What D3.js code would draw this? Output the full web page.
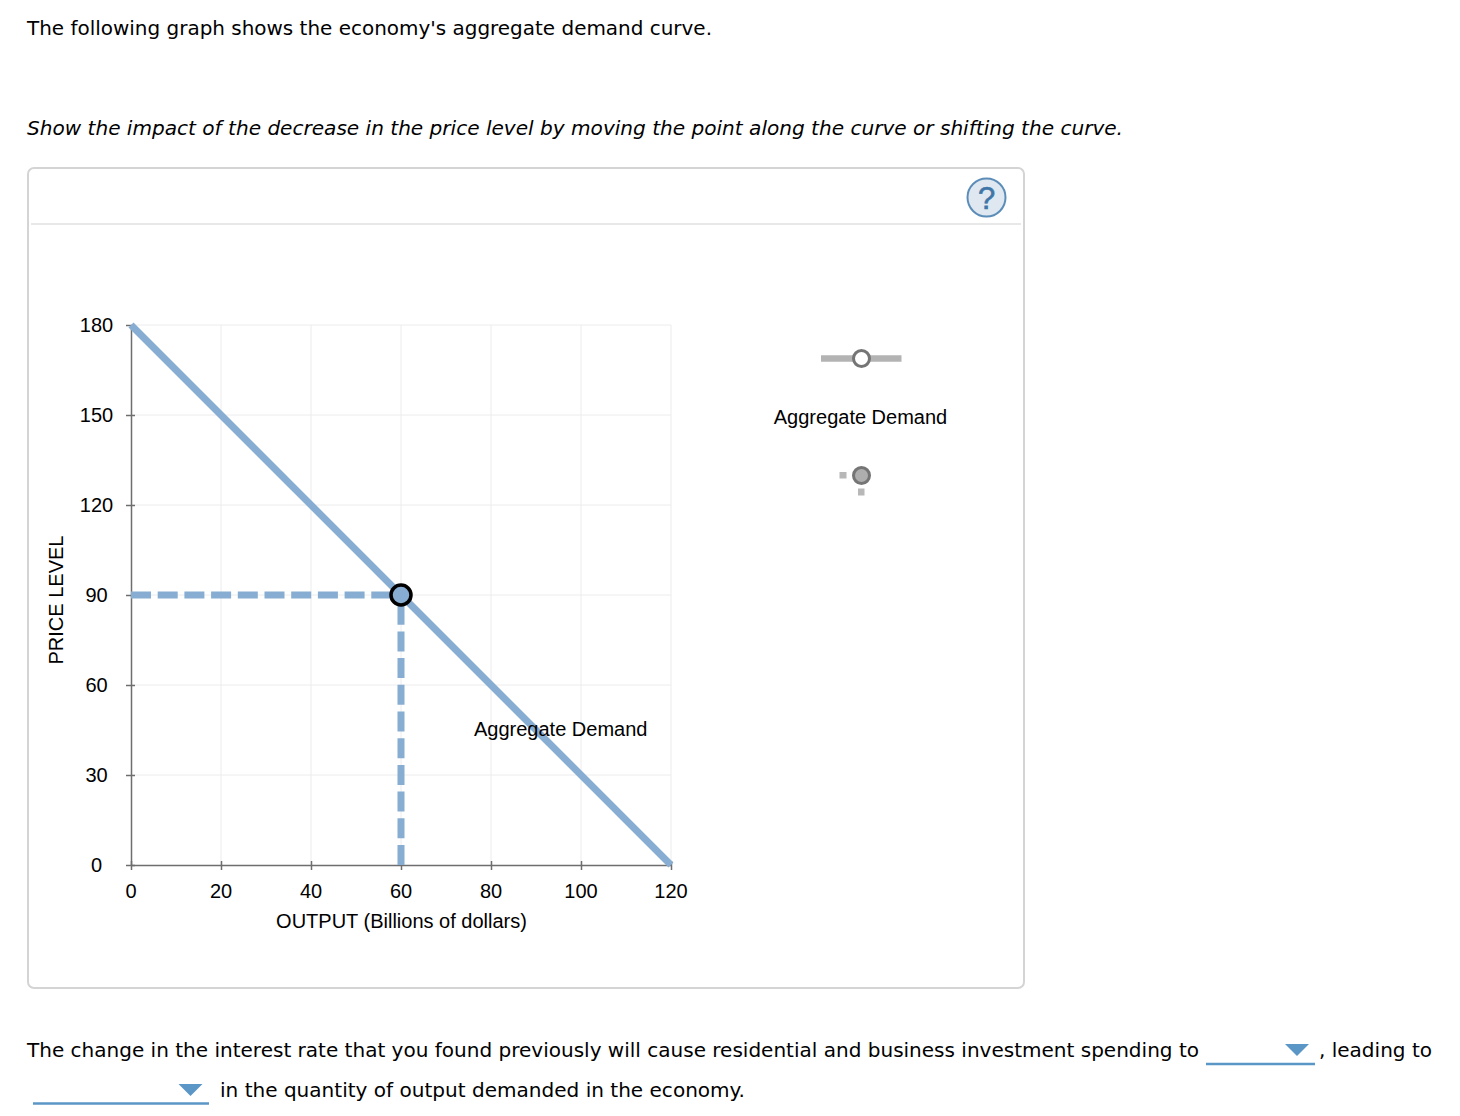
<!DOCTYPE html>
<html><head><meta charset="utf-8">
<script src="https://cdn.jsdelivr.net/npm/d3@7"></script>
<style>html,body{margin:0;padding:0;background:#fff}svg{display:block}</style></head>
<body><svg id="c" width="1460" height="1116"></svg>
<script>
const xTicks=[0,20,40,60,80,100,120];
const yTicks=[0,30,60,90,120,150,180];
const demandX=[0,120];
const demandY=[180,0];
const pointX=[60];
const pointY=[90];
const curveLabel="Aggregate Demand";
const xTitle="OUTPUT (Billions of dollars)";
const yTitle="PRICE LEVEL";
const paragraphs=[
 {t:"The following graph shows the economy's aggregate demand curve.",x:27,y:35,len:685,i:false},
 {t:"Show the impact of the decrease in the price level by moving the point along the curve or shifting the curve.",x:27,y:135,len:1096,i:true},
 {t:"The change in the interest rate that you found previously will cause residential and business investment spending to",x:27,y:1057,len:1172,i:false},
 {t:", leading to",x:1319,y:1057,len:113,i:false},
 {t:"in the quantity of output demanded in the economy.",x:220,y:1097,len:525,i:false}
];
const svg=d3.select("#c");
const sans="'Liberation Sans',Arial,sans-serif", body="'DejaVu Sans',Verdana,sans-serif";
const x=d3.scaleLinear().domain([0,120]).range([131,671]);
const y=d3.scaleLinear().domain([0,180]).range([865,325]);

svg.selectAll("text.p").data(paragraphs).join("text").attr("class","p")
 .attr("x",d=>d.x).attr("y",d=>d.y).attr("textLength",d=>d.len).attr("lengthAdjust","spacingAndGlyphs")
 .attr("font-family",body).attr("font-size",20).attr("font-style",d=>d.i?"italic":"normal").attr("fill","#000").text(d=>d.t);

svg.append("rect").attr("x",28).attr("y",168).attr("width",996).attr("height",820).attr("rx",6)
 .attr("fill","#fff").attr("stroke","#d4d4d4").attr("stroke-width",2);
svg.append("line").attr("x1",31).attr("x2",1021).attr("y1",224).attr("y2",224).attr("stroke","#e0e0e0").attr("stroke-width",1.5);

// help icon
svg.append("circle").attr("cx",986.5).attr("cy",197.5).attr("r",19).attr("fill","#dfe8f1").attr("stroke","#5b8db8").attr("stroke-width",2);
svg.append("text").attr("x",986.5).attr("y",209).attr("text-anchor","middle").attr("font-family",sans)
 .attr("font-size",31).attr("fill","#3f76a8").attr("stroke","#3f76a8").attr("stroke-width",0.6).text("?");

// grid
const g=svg.append("g");
g.selectAll("line.gx").data(xTicks.slice(1)).join("line").attr("class","gx").attr("x1",x).attr("x2",x).attr("y1",y(180)).attr("y2",y(0)).attr("stroke","#ececec").attr("stroke-width",1);
g.selectAll("line.gy").data(yTicks.slice(1)).join("line").attr("class","gy").attr("y1",y).attr("y2",y).attr("x1",x(0)).attr("x2",x(120)).attr("stroke","#ececec").attr("stroke-width",1);

// axes
const ax=svg.append("g").attr("transform",`translate(0,${y(0)})`).call(d3.axisBottom(x).tickValues(xTicks).tickSize(5).tickPadding(13).tickSizeOuter(0));
const ay=svg.append("g").attr("transform",`translate(${x(0)},0)`).call(d3.axisLeft(y).tickValues(yTicks).tickSize(5).tickPadding(13).tickSizeOuter(0));
[ax,ay].forEach(a=>{a.selectAll("path,line").attr("stroke","#6e6e6e").attr("stroke-width",1.5);
 a.selectAll("text").attr("font-family",sans).attr("font-size",20).attr("fill","#000");});
ax.selectAll(".tick line").attr("y1",-4).attr("y2",5);
ay.selectAll(".tick line").attr("x1",4).attr("x2",-5);
ax.selectAll("text").attr("dx","-0.5").attr("dy","0.75em");
ay.selectAll("text").attr("text-anchor","middle").attr("x",-34.5).attr("dy","0.34em");
svg.append("text").attr("x",x(60)+0.5).attr("y",928).attr("text-anchor","middle").attr("font-family",sans).attr("font-size",20).text(xTitle);
svg.append("text").attr("transform","translate(63,600) rotate(-90)").attr("text-anchor","middle").attr("font-family",sans).attr("font-size",20).text(yTitle);

// curve
const blue="#87add2";
svg.append("path").attr("d",d3.line().x(d=>x(d[0])).y(d=>y(d[1]))(d3.zip(demandX,demandY))).attr("fill","none").attr("stroke",blue).attr("stroke-width",7);
svg.append("line").attr("x1",x(0)).attr("x2",x(pointX[0])).attr("y1",y(pointY[0])).attr("y2",y(pointY[0])).attr("stroke",blue).attr("stroke-width",7).attr("stroke-dasharray","20 6.7");
svg.append("line").attr("x1",x(pointX[0])).attr("x2",x(pointX[0])).attr("y1",y(0)).attr("y2",y(pointY[0])).attr("stroke",blue).attr("stroke-width",7).attr("stroke-dasharray","20 6.7");
svg.append("circle").attr("cx",x(pointX[0])).attr("cy",y(pointY[0])).attr("r",10).attr("fill",blue).attr("stroke","#000").attr("stroke-width",3.5);
svg.append("text").attr("x",474).attr("y",736).attr("font-family",sans).attr("font-size",20).text(curveLabel);

// palette
svg.append("line").attr("x1",821).attr("x2",901.5).attr("y1",358.5).attr("y2",358.5).attr("stroke","#b3b3b3").attr("stroke-width",6.5);
svg.append("circle").attr("cx",861.5).attr("cy",358.5).attr("r",8).attr("fill","#fff").attr("stroke","#757575").attr("stroke-width",3);
svg.append("text").attr("x",860.5).attr("y",424).attr("text-anchor","middle").attr("font-family",sans).attr("font-size",20).text(curveLabel);
svg.append("rect").attr("x",839.5).attr("y",472).attr("width",7).attr("height",6.5).attr("fill","#b8b8b8");
svg.append("rect").attr("x",858).attr("y",488.5).attr("width",6.5).attr("height",7).attr("fill","#b8b8b8");
svg.append("circle").attr("cx",861.5).attr("cy",475.5).attr("r",8).attr("fill","#aeaeae").attr("stroke","#757575").attr("stroke-width",3);

// dropdowns
const dd="#5a96c6";
[[1206,1315,1064,1297,1050],[33,209,1103.5,190.5,1090]].forEach(([a,b,ly,cx,ty],i)=>{
 svg.append("line").attr("x1",a).attr("x2",b).attr("y1",ly).attr("y2",ly).attr("stroke",dd).attr("stroke-width",2.5);
 const w=12,h=12;
 svg.append("path").attr("d",`M${cx-w},${ty-6}L${cx+w},${ty-6}L${cx},${ty-6+h}Z`).attr("fill",dd);
});
</script></body></html>
